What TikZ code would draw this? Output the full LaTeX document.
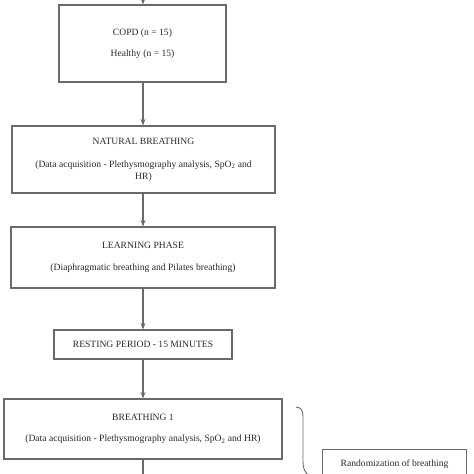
\documentclass[tikz,border=0pt]{standalone}
\usepackage{fontspec}
\setmainfont{Liberation Serif}
\usetikzlibrary{arrows.meta}
\definecolor{edge}{HTML}{6A6A6A}
\definecolor{ink}{HTML}{2A2A2A}
\begin{document}
\begin{tikzpicture}[x=1pt,y=-1pt,
  box/.style={draw=edge,line width=1.1pt,rectangle,inner sep=0pt,align=center,
    text=ink,font=\fontsize{9.6}{12}\selectfont},
  link/.style={draw=edge,line width=1.1pt,-{Stealth[length=6.5pt,width=5pt]}},
  plain/.style={draw=edge,line width=1.1pt}]
\useasboundingbox[fill=white] (0,0) rectangle (474,474);
\node[box,minimum width=167pt,minimum height=77pt] (grp) at (142.5,43.5)
  {COPD (n = 15)\\[9pt]Healthy (n = 15)};
\node[box,minimum width=263pt,minimum height=67pt] (nat) at (143.5,159.5)
  {NATURAL BREATHING\\[11pt](Data acquisition - Plethysmography analysis, SpO\textsubscript{2} and\\HR)};
\node[box,minimum width=264pt,minimum height=61pt] (learn) at (143,257.5)
  {LEARNING PHASE\\[10pt](Diaphragmatic breathing and Pilates breathing)};
\node[box,minimum width=178pt,minimum height=29pt] (rest) at (143,344.5)
  {RESTING PERIOD - 15 MINUTES};
\node[box,minimum width=278pt,minimum height=60pt] (br1) at (143,429)
  {BREATHING 1\\[9pt](Data acquisition - Plethysmography analysis, SpO\textsubscript{2} and HR)};
\node[box,minimum width=144pt,anchor=north west,text depth=30pt] (rand) at (322,449)
  {\rule{0pt}{17pt}Randomization of breathing\\[3pt]patterns and};
\coordinate (top) at (143,-2);
\coordinate (bot) at (143,480);
\draw[link] (top) -- (top |- grp.north);
\draw[link] (top |- grp.south) -- (top |- nat.north);
\draw[link] (top |- nat.south) -- (top |- learn.north);
\draw[link] (top |- learn.south) -- (top |- rest.north);
\draw[link] (top |- rest.south) -- (top |- br1.north);
\draw[plain] (top |- br1.south) -- (bot);
\coordinate (b0) at (296,407);
\draw[plain,line width=0.9pt] (b0) .. controls (301,407.5) and (303,410) .. (303,416)
  -- (303,462) .. controls (303,469) and (305,473) .. (310,476);
\end{tikzpicture}
\end{document}
